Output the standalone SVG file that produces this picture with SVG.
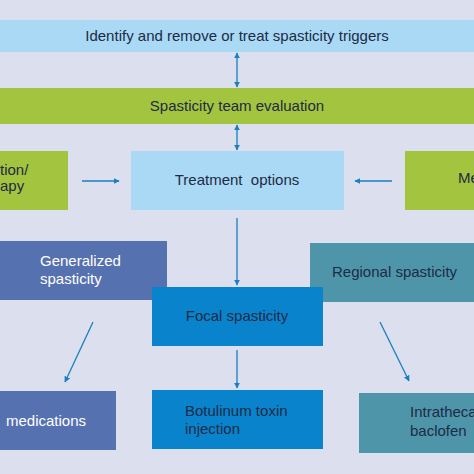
<svg xmlns="http://www.w3.org/2000/svg" width="474" height="474" viewBox="0 0 474 474">
<style>
text{font-family:"Liberation Sans",Arial,sans-serif;font-size:15px;fill:#1d2b45}
.w{fill:#ffffff}
.c{text-anchor:middle}
.lb{fill:#a9d9f5}
.gr{fill:#a3c43e}
.gs{fill:#5571b0}
.rs{fill:#4e95aa}
.fs{fill:#0a83cd}
.cn line{stroke:#1a7fc0;stroke-width:1.3;fill:none}
</style>
<defs>
<marker id="ah" viewBox="0 0 10 10" refX="9" refY="5" markerWidth="6" markerHeight="6" markerUnits="userSpaceOnUse" orient="auto-start-reverse">
<path d="M0,0 L10,5 L0,10 z" fill="#1a7fc0"/>
</marker>
</defs>
<rect width="474" height="474" fill="#dcdfee"/>
<g id="triggers"><rect class="lb" x="0" y="20" width="474" height="32"/><text class="c" x="237" y="41">Identify and remove or treat spasticity triggers</text></g>
<g id="team"><rect class="gr" x="0" y="88" width="474" height="36"/><text class="c" x="237" y="111">Spasticity team evaluation</text></g>
<g id="left"><rect class="gr" x="0" y="151" width="68" height="59"/><text x="0" y="175">tion/</text><text x="0" y="191">apy</text></g>
<g id="treatment"><rect class="lb" x="131" y="151" width="213" height="59"/><text class="c" x="237" y="185" xml:space="preserve">Treatment  options</text></g>
<g id="right"><rect class="gr" x="405" y="151" width="69" height="59"/><text x="458" y="183">Me</text></g>
<g id="generalized"><rect class="gs" x="0" y="241" width="167" height="59"/><text class="w" x="40" y="266">Generalized</text><text class="w" x="40" y="284">spasticity</text></g>
<g id="regional"><rect class="rs" x="310" y="243" width="164" height="59"/><text x="332" y="277">Regional spasticity</text></g>
<g id="focal"><rect class="fs" x="152" y="287" width="171" height="59"/><text class="c" x="237" y="321">Focal spasticity</text></g>
<g id="medications"><rect class="gs" x="0" y="391" width="116" height="59"/><text class="w" x="6" y="426">medications</text></g>
<g id="botulinum"><rect class="fs" x="152" y="390" width="171" height="59"/><text x="185" y="416">Botulinum toxin</text><text x="185" y="434">injection</text></g>
<g id="intrathecal"><rect class="rs" x="359" y="393" width="115" height="60"/><text x="410" y="417">Intratheca</text><text x="410" y="436">baclofen</text></g>
<g class="cn" id="connectors">
<line x1="237" y1="53" x2="237" y2="87" marker-start="url(#ah)" marker-end="url(#ah)"/>
<line x1="237" y1="125" x2="237" y2="150" marker-start="url(#ah)" marker-end="url(#ah)"/>
<line x1="82" y1="181" x2="119" y2="181" marker-end="url(#ah)"/>
<line x1="392" y1="181" x2="355" y2="181" marker-end="url(#ah)"/>
<line x1="237" y1="218" x2="237" y2="285" marker-end="url(#ah)"/>
<line x1="93" y1="322" x2="65" y2="382" marker-end="url(#ah)"/>
<line x1="380" y1="322" x2="409" y2="381" marker-end="url(#ah)"/>
<line x1="237" y1="350" x2="237" y2="388" marker-end="url(#ah)"/>
</g>
</svg>
